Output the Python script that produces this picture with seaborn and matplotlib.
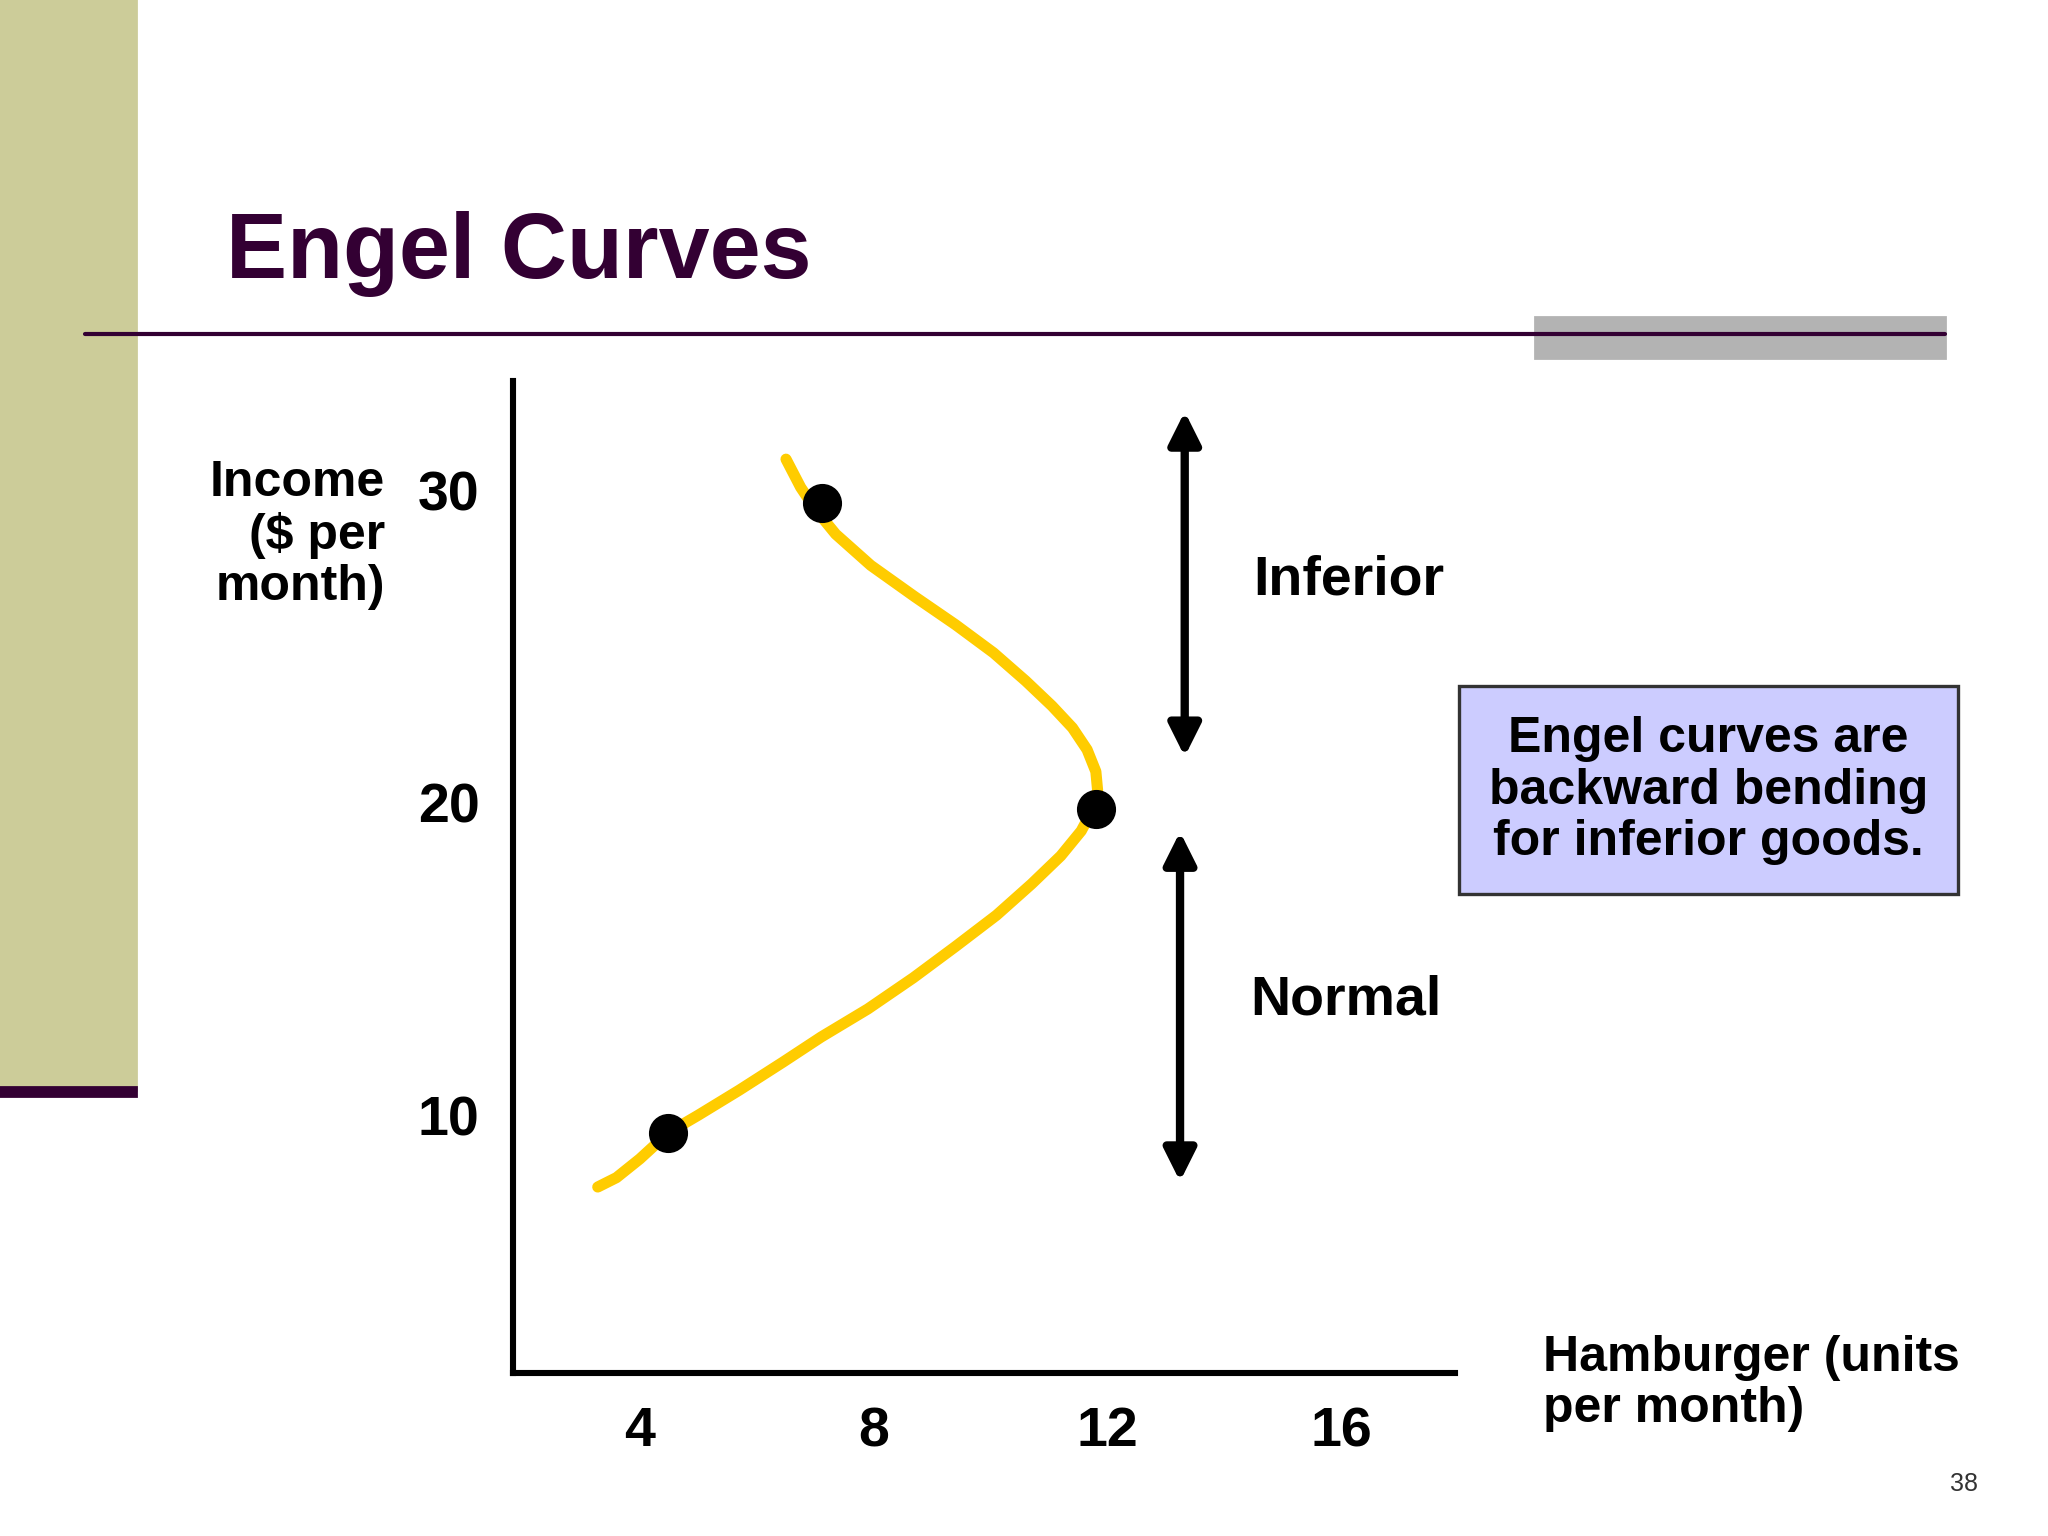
import matplotlib
matplotlib.use("Agg")
import matplotlib.pyplot as plt
import seaborn as sns
import pandas as pd
from matplotlib.patches import Rectangle

sns.set_theme(style="white")
plt.rcParams['font.family'] = ['Liberation Sans', 'DejaVu Sans']
plt.rcParams['text.color'] = 'black'
plt.rcParams['xtick.color'] = 'black'
plt.rcParams['ytick.color'] = 'black'

curve_x = [3.28, 3.6, 4.0, 4.49, 5.0, 5.7, 6.45, 7.1, 7.9, 8.68, 9.4, 10.1, 10.7, 11.2, 11.55, 11.75, 11.83, 11.8, 11.65, 11.4, 11.05, 10.6, 10.05, 9.4, 8.7, 7.95, 7.35, 7.0, 6.75, 6.5]
curve_y = [7.7, 8.0, 8.6, 9.44, 10.0, 10.8, 11.7, 12.5, 13.4, 14.4, 15.4, 16.4, 17.4, 18.3, 19.1, 19.8, 20.4, 21.0, 21.7, 22.4, 23.1, 23.9, 24.8, 25.7, 26.6, 27.6, 28.6, 29.4, 30.1, 31.0]
pts_x = [4.49, 11.8, 7.12]
pts_y = [9.44, 19.8, 29.6]
xticks = [4, 8, 12, 16]
yticks = [10, 20, 30]

fig = plt.figure(figsize=(10.24, 7.68), dpi=200)
W, H = 1569, 1177
def fx(px): return px / W
def fy(py): return 1 - py / H

fig.patches.append(Rectangle((0, fy(835)), fx(104), 1 - fy(835), transform=fig.transFigure, color="#CCCC99", zorder=0))
fig.patches.append(Rectangle((0, fy(840)), fx(104), fy(833) - fy(840), transform=fig.transFigure, color="#330033", zorder=0))
fig.patches.append(Rectangle((fx(1176), fy(274)), fx(1490) - fx(1176), fy(243) - fy(274), transform=fig.transFigure, color="#B3B3B3", zorder=0))
fig.add_artist(plt.Line2D([fx(65), fx(1490)], [fy(256), fy(256)], color="#330033", lw=1.5))
fig.text(fx(173), fy(195), "Engel Curves", fontsize=33, fontweight="bold", color="#330033", va="center")
fig.text(fx(1515), fy(1137), "38", fontsize=9, ha="right", va="center", color="#333333")

ax = fig.add_axes([fx(393), fy(1052), fx(1115) - fx(393), fy(292) - fy(1052)])
ax.set_xlim(1.83, 17.95)
ax.set_ylim(1.75, 33.5)
df = pd.DataFrame({"x": curve_x, "y": curve_y})
ax.plot(df.x, df.y, color="#FFCC00", lw=4, solid_capstyle="round", solid_joinstyle="round", zorder=2)
sns.scatterplot(x=pts_x, y=pts_y, ax=ax, color="black", s=170, zorder=3, edgecolor="black")
for s in ["top", "right"]:
    ax.spines[s].set_visible(False)
for s in ["left", "bottom"]:
    ax.spines[s].set_color("black"); ax.spines[s].set_linewidth(2.2)
ax.set_xticks(xticks); ax.set_yticks(yticks)
ax.tick_params(length=0, labelsize=20, pad=12)
for t in ax.get_xticklabels() + ax.get_yticklabels():
    t.set_fontweight("bold")
ax.set_facecolor("white")

ap = dict(arrowstyle="<|-|>,head_length=0.8,head_width=0.4", lw=3, color="black")
ax.annotate("", xy=(13.32, 32.7), xytext=(13.32, 21.3), arrowprops=ap)
ax.annotate("", xy=(13.24, 19.25), xytext=(13.24, 7.7), arrowprops=ap)

fig.text(fx(960), fy(445), "Inferior", fontsize=20, fontweight="bold", va="center")
fig.text(fx(958), fy(767), "Normal", fontsize=20, fontweight="bold", va="center")
fig.text(fx(295), fy(410), "Income\n($ per\nmonth)", fontsize=18, fontweight="bold", ha="right", va="center", multialignment="right", linespacing=1.15)
fig.text(fx(1182), fy(1060), "Hamburger (units\nper month)", fontsize=18, fontweight="bold", ha="left", va="center", linespacing=1.15)
fig.patches.append(Rectangle((fx(1118), fy(685)), fx(1500) - fx(1118), fy(526) - fy(685), transform=fig.transFigure, facecolor="#CCCCFF", edgecolor="#333333", lw=1.2))
fig.text(fx(1309), fy(606), "Engel curves are\nbackward bending\nfor inferior goods.", fontsize=18, fontweight="bold", ha="center", va="center", linespacing=1.15)

fig.savefig("out.png", dpi=200, facecolor="white")
